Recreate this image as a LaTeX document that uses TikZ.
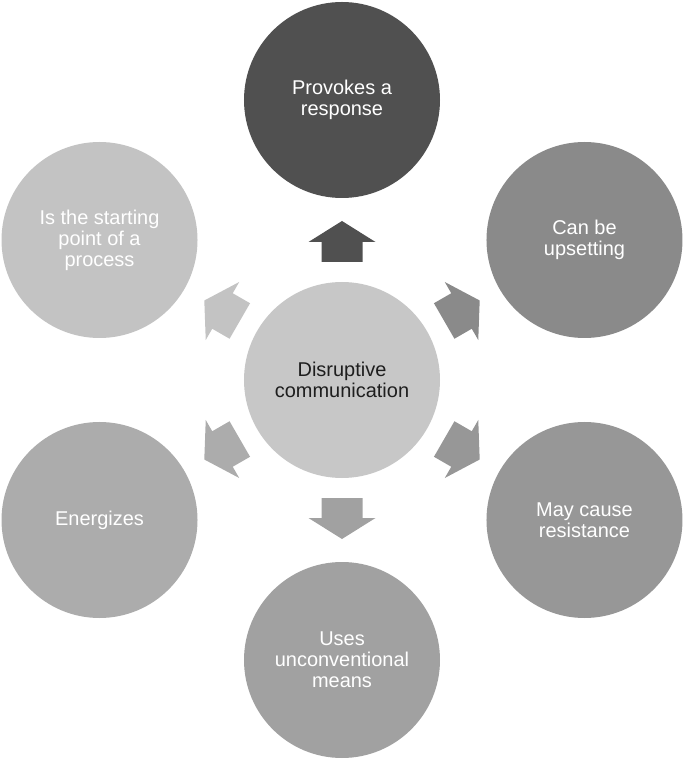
\documentclass[tikz,border=0pt]{standalone}
\usepackage{fontspec}
\setmainfont{Liberation Sans}
\usetikzlibrary{positioning}
\definecolor{ctop}{RGB}{80,80,80}
\definecolor{cur}{RGB}{138,138,138}
\definecolor{clr}{RGB}{151,151,151}
\definecolor{cbot}{RGB}{161,161,161}
\definecolor{cll}{RGB}{172,172,172}
\definecolor{cul}{RGB}{195,195,195}
\definecolor{cmid}{RGB}{199,199,199}
\definecolor{textdark}{RGB}{30,30,30}
\tikzset{bubble/.style={circle,minimum size=4.9cm,inner sep=0pt,align=center,text=white,
                        font=\fontsize{14.2}{15}\selectfont},
        }

\begin{document}
\begin{tikzpicture}
        \useasboundingbox (-8.55,-9.525) rectangle (8.575,9.5);
        \node[bubble,fill=cmid,text=textdark](c)at(0,0){Disruptive\\communication};
        \node[bubble,fill=ctop](n1)at(90:7){Provokes a\\response};
        \node[bubble,fill=cur](n2)at(30:7){Can be\\upsetting};
        \node[bubble,fill=clr](n3)at(-30:7){May cause\\resistance};
        \node[bubble,fill=cbot](n4)at(-90:7){Uses\\unconventional\\means};
        \node[bubble,fill=cll](n5)at(-150:7){Energizes};
        \node[bubble,fill=cul](n6)at(150:7){Is the starting\\point of a\\process};

        % block arrows between the centre and each bubble
        \foreach \a/\col in {90/ctop,30/cur,-30/clr,-90/cbot,-150/cll,150/cul}
            \fill[\col,rotate=\a](2.95,-0.5125)--(3.45,-0.5125)--(3.45,-0.8375)--(3.975,0)
                --(3.45,0.8375)--(3.45,0.5125)--(2.95,0.5125)--cycle;
    \end{tikzpicture}
\end{document}
